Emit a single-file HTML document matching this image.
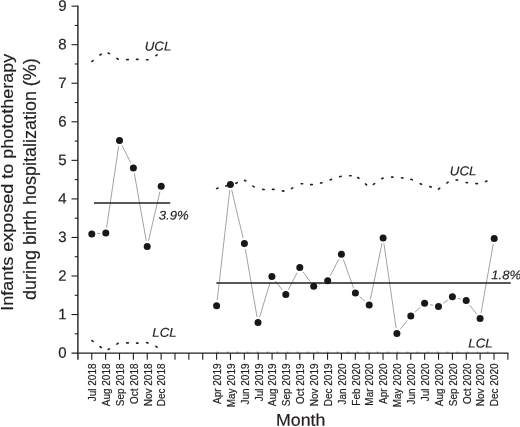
<!DOCTYPE html><html><head><meta charset="utf-8"><title>Phototherapy control chart</title>
<style>html,body{margin:0;padding:0;background:#fff}svg{display:block;font-family:"Liberation Sans",Arial,sans-serif}</style></head><body>
<svg width="520" height="427" viewBox="0 0 520 427">
<rect width="520" height="427" fill="#fff"/>
<g stroke="#8a8a8a" stroke-width="0.8" fill="none">
<line x1="97.38" y1="233.66" x2="100.22" y2="233.44"/>
<line x1="106.62" y1="227.46" x2="118.68" y2="146.04"/>
<line x1="122.03" y1="145.49" x2="130.87" y2="162.91"/>
<line x1="134.37" y1="173.42" x2="146.23" y2="240.88"/>
<line x1="148.47" y1="240.95" x2="159.93" y2="191.65"/>
<line x1="217.23" y1="300.14" x2="229.77" y2="190.16"/>
<line x1="231.69" y1="190.05" x2="243.11" y2="238.05"/>
<line x1="245.35" y1="249.02" x2="257.05" y2="316.98"/>
<line x1="259.62" y1="317.14" x2="270.28" y2="281.86"/>
<line x1="275.31" y1="280.94" x2="282.39" y2="290.16"/>
<line x1="288.38" y1="289.63" x2="297.22" y2="272.57"/>
<line x1="303.15" y1="272.09" x2="310.35" y2="281.71"/>
<line x1="318.92" y1="284.18" x2="322.48" y2="282.82"/>
<line x1="330.26" y1="275.82" x2="338.84" y2="259.18"/>
<line x1="343.30" y1="259.47" x2="353.50" y2="287.83"/>
<line x1="359.64" y1="296.76" x2="364.96" y2="301.34"/>
<line x1="370.34" y1="299.52" x2="381.96" y2="243.38"/>
<line x1="383.90" y1="243.44" x2="396.10" y2="327.86"/>
<line x1="400.40" y1="329.02" x2="407.30" y2="320.38"/>
<line x1="414.92" y1="312.21" x2="420.48" y2="307.09"/>
<line x1="430.05" y1="304.59" x2="433.05" y2="305.31"/>
<line x1="443.08" y1="303.37" x2="447.82" y2="300.03"/>
<line x1="457.80" y1="298.29" x2="460.80" y2="299.11"/>
<line x1="469.65" y1="305.01" x2="476.65" y2="313.99"/>
<line x1="481.07" y1="312.89" x2="493.23" y2="244.01"/>
</g>
<g stroke="#231f20" stroke-width="1.5">
<line x1="94" y1="203.1" x2="170.2" y2="203.1"/>
<line x1="216.4" y1="282.95" x2="510.7" y2="282.95"/>
</g>
<g stroke="#231f20" stroke-width="1.6" stroke-linecap="round">
<line x1="91.89" y1="61.43" x2="93.11" y2="60.57"/>
<line x1="99.95" y1="54.98" x2="101.25" y2="54.23"/>
<line x1="108.12" y1="52.98" x2="109.48" y2="53.62"/>
<line x1="116.89" y1="58.37" x2="118.11" y2="59.23"/>
<line x1="126.75" y1="59.60" x2="128.25" y2="59.60"/>
<line x1="136.55" y1="59.40" x2="138.05" y2="59.40"/>
<line x1="146.55" y1="59.80" x2="148.05" y2="59.80"/>
<line x1="155.85" y1="55.58" x2="157.15" y2="54.83"/>
<line x1="91.89" y1="340.57" x2="93.11" y2="341.43"/>
<line x1="99.95" y1="346.73" x2="101.25" y2="347.48"/>
<line x1="108.12" y1="349.52" x2="109.48" y2="348.88"/>
<line x1="116.89" y1="344.13" x2="118.11" y2="343.27"/>
<line x1="126.75" y1="342.90" x2="128.25" y2="342.90"/>
<line x1="136.55" y1="343.10" x2="138.05" y2="343.10"/>
<line x1="146.60" y1="342.54" x2="148.00" y2="343.06"/>
<line x1="155.86" y1="346.40" x2="157.14" y2="347.20"/>
<line x1="216.62" y1="188.62" x2="217.98" y2="187.98"/>
<line x1="225.78" y1="185.99" x2="227.22" y2="185.61"/>
<line x1="235.80" y1="183.16" x2="237.20" y2="182.64"/>
<line x1="244.55" y1="180.22" x2="245.85" y2="180.97"/>
<line x1="252.85" y1="186.12" x2="254.15" y2="186.88"/>
<line x1="262.75" y1="189.33" x2="264.25" y2="189.47"/>
<line x1="272.55" y1="189.40" x2="274.05" y2="189.40"/>
<line x1="282.36" y1="190.87" x2="283.84" y2="191.13"/>
<line x1="291.45" y1="188.57" x2="292.75" y2="187.82"/>
<line x1="301.15" y1="183.80" x2="302.65" y2="183.80"/>
<line x1="310.75" y1="184.60" x2="312.25" y2="184.60"/>
<line x1="320.58" y1="183.09" x2="322.02" y2="182.71"/>
<line x1="330.12" y1="179.92" x2="331.48" y2="179.28"/>
<line x1="339.68" y1="176.69" x2="341.12" y2="176.31"/>
<line x1="349.65" y1="175.80" x2="351.15" y2="175.80"/>
<line x1="357.65" y1="177.53" x2="358.95" y2="178.28"/>
<line x1="365.43" y1="183.92" x2="366.57" y2="184.88"/>
<line x1="373.39" y1="184.43" x2="374.61" y2="183.57"/>
<line x1="381.85" y1="178.78" x2="383.15" y2="178.03"/>
<line x1="391.55" y1="177.10" x2="393.05" y2="177.10"/>
<line x1="401.55" y1="177.83" x2="403.05" y2="177.97"/>
<line x1="410.80" y1="179.34" x2="412.20" y2="179.86"/>
<line x1="420.22" y1="183.68" x2="421.58" y2="184.32"/>
<line x1="429.78" y1="186.61" x2="431.22" y2="186.99"/>
<line x1="438.49" y1="189.13" x2="439.71" y2="188.27"/>
<line x1="446.89" y1="183.03" x2="448.11" y2="182.17"/>
<line x1="456.17" y1="179.84" x2="457.63" y2="180.16"/>
<line x1="466.06" y1="182.47" x2="467.54" y2="182.73"/>
<line x1="475.95" y1="183.60" x2="477.45" y2="183.60"/>
<line x1="485.50" y1="181.56" x2="486.90" y2="181.04"/>
</g>
<line x1="216.6" y1="352.2" x2="494" y2="352.2" stroke="#231f20" stroke-width="0.5" stroke-dasharray="2 8"/>
<g fill="#1a1718">
<circle cx="91.80" cy="234.10" r="3.5"/>
<circle cx="105.80" cy="233.00" r="3.5"/>
<circle cx="119.50" cy="140.50" r="3.5"/>
<circle cx="133.40" cy="167.90" r="3.5"/>
<circle cx="147.20" cy="246.40" r="3.5"/>
<circle cx="161.20" cy="186.20" r="3.5"/>
<circle cx="216.60" cy="305.70" r="3.5"/>
<circle cx="230.40" cy="184.60" r="3.5"/>
<circle cx="244.40" cy="243.50" r="3.5"/>
<circle cx="258.00" cy="322.50" r="3.5"/>
<circle cx="271.90" cy="276.50" r="3.5"/>
<circle cx="285.80" cy="294.60" r="3.5"/>
<circle cx="299.80" cy="267.60" r="3.5"/>
<circle cx="313.70" cy="286.20" r="3.5"/>
<circle cx="327.70" cy="280.80" r="3.5"/>
<circle cx="341.40" cy="254.20" r="3.5"/>
<circle cx="355.40" cy="293.10" r="3.5"/>
<circle cx="369.20" cy="305.00" r="3.5"/>
<circle cx="383.10" cy="237.90" r="3.5"/>
<circle cx="396.90" cy="333.40" r="3.5"/>
<circle cx="410.80" cy="316.00" r="3.5"/>
<circle cx="424.60" cy="303.30" r="3.5"/>
<circle cx="438.50" cy="306.60" r="3.5"/>
<circle cx="452.40" cy="296.80" r="3.5"/>
<circle cx="466.20" cy="300.60" r="3.5"/>
<circle cx="480.10" cy="318.40" r="3.5"/>
<circle cx="494.20" cy="238.50" r="3.5"/>
</g>
<g stroke="#231f20" fill="none">
<line stroke-width="1.4" x1="77.90" y1="5.45" x2="77.90" y2="359.80"/>
<line stroke-width="1.2" x1="71.50" y1="353.05" x2="508.42" y2="353.05"/>
<g stroke-width="1.1">
<line x1="71.50" y1="314.55" x2="77.90" y2="314.55"/>
<line x1="71.50" y1="276.00" x2="77.90" y2="276.00"/>
<line x1="71.50" y1="237.45" x2="77.90" y2="237.45"/>
<line x1="71.50" y1="198.90" x2="77.90" y2="198.90"/>
<line x1="71.50" y1="160.35" x2="77.90" y2="160.35"/>
<line x1="71.50" y1="121.80" x2="77.90" y2="121.80"/>
<line x1="71.50" y1="83.25" x2="77.90" y2="83.25"/>
<line x1="71.50" y1="44.70" x2="77.90" y2="44.70"/>
<line x1="71.50" y1="6.15" x2="77.90" y2="6.15"/>
<line x1="74.70" y1="333.83" x2="77.90" y2="333.83"/>
<line x1="74.70" y1="295.28" x2="77.90" y2="295.28"/>
<line x1="74.70" y1="256.73" x2="77.90" y2="256.73"/>
<line x1="74.70" y1="218.18" x2="77.90" y2="218.18"/>
<line x1="74.70" y1="179.62" x2="77.90" y2="179.62"/>
<line x1="74.70" y1="141.08" x2="77.90" y2="141.08"/>
<line x1="74.70" y1="102.53" x2="77.90" y2="102.53"/>
<line x1="74.70" y1="63.98" x2="77.90" y2="63.98"/>
<line x1="74.70" y1="25.43" x2="77.90" y2="25.43"/>
<line x1="91.77" y1="353.00" x2="91.77" y2="359.80"/>
<line x1="105.64" y1="353.00" x2="105.64" y2="359.80"/>
<line x1="119.51" y1="353.00" x2="119.51" y2="359.80"/>
<line x1="133.38" y1="353.00" x2="133.38" y2="359.80"/>
<line x1="147.25" y1="353.00" x2="147.25" y2="359.80"/>
<line x1="161.12" y1="353.00" x2="161.12" y2="359.80"/>
<line x1="174.99" y1="353.00" x2="174.99" y2="359.80"/>
<line x1="188.86" y1="353.00" x2="188.86" y2="359.80"/>
<line x1="202.73" y1="353.00" x2="202.73" y2="359.80"/>
<line x1="216.60" y1="353.00" x2="216.60" y2="359.80"/>
<line x1="230.47" y1="353.00" x2="230.47" y2="359.80"/>
<line x1="244.34" y1="353.00" x2="244.34" y2="359.80"/>
<line x1="258.21" y1="353.00" x2="258.21" y2="359.80"/>
<line x1="272.08" y1="353.00" x2="272.08" y2="359.80"/>
<line x1="285.95" y1="353.00" x2="285.95" y2="359.80"/>
<line x1="299.82" y1="353.00" x2="299.82" y2="359.80"/>
<line x1="313.69" y1="353.00" x2="313.69" y2="359.80"/>
<line x1="327.56" y1="353.00" x2="327.56" y2="359.80"/>
<line x1="341.43" y1="353.00" x2="341.43" y2="359.80"/>
<line x1="355.30" y1="353.00" x2="355.30" y2="359.80"/>
<line x1="369.17" y1="353.00" x2="369.17" y2="359.80"/>
<line x1="383.04" y1="353.00" x2="383.04" y2="359.80"/>
<line x1="396.91" y1="353.00" x2="396.91" y2="359.80"/>
<line x1="410.78" y1="353.00" x2="410.78" y2="359.80"/>
<line x1="424.65" y1="353.00" x2="424.65" y2="359.80"/>
<line x1="438.52" y1="353.00" x2="438.52" y2="359.80"/>
<line x1="452.39" y1="353.00" x2="452.39" y2="359.80"/>
<line x1="466.26" y1="353.00" x2="466.26" y2="359.80"/>
<line x1="480.13" y1="353.00" x2="480.13" y2="359.80"/>
<line x1="494.00" y1="353.00" x2="494.00" y2="359.80"/>
<line x1="507.87" y1="353.00" x2="507.87" y2="359.80"/>
</g></g>
<g fill="#231f20">
<text transform="translate(66.50,357.75) rotate(0.03)" font-size="15.0" text-anchor="end" stroke="#231f20" stroke-width="0.2" stroke-linejoin="round">0</text>
<text transform="translate(66.50,319.20) rotate(0.03)" font-size="15.0" text-anchor="end" stroke="#231f20" stroke-width="0.2" stroke-linejoin="round">1</text>
<text transform="translate(66.50,280.65) rotate(0.03)" font-size="15.0" text-anchor="end" stroke="#231f20" stroke-width="0.2" stroke-linejoin="round">2</text>
<text transform="translate(66.50,242.10) rotate(0.03)" font-size="15.0" text-anchor="end" stroke="#231f20" stroke-width="0.2" stroke-linejoin="round">3</text>
<text transform="translate(66.50,203.55) rotate(0.03)" font-size="15.0" text-anchor="end" stroke="#231f20" stroke-width="0.2" stroke-linejoin="round">4</text>
<text transform="translate(66.50,165.00) rotate(0.03)" font-size="15.0" text-anchor="end" stroke="#231f20" stroke-width="0.2" stroke-linejoin="round">5</text>
<text transform="translate(66.50,126.45) rotate(0.03)" font-size="15.0" text-anchor="end" stroke="#231f20" stroke-width="0.2" stroke-linejoin="round">6</text>
<text transform="translate(66.50,87.90) rotate(0.03)" font-size="15.0" text-anchor="end" stroke="#231f20" stroke-width="0.2" stroke-linejoin="round">7</text>
<text transform="translate(66.50,49.35) rotate(0.03)" font-size="15.0" text-anchor="end" stroke="#231f20" stroke-width="0.2" stroke-linejoin="round">8</text>
<text transform="translate(66.50,10.80) rotate(0.03)" font-size="15.0" text-anchor="end" stroke="#231f20" stroke-width="0.2" stroke-linejoin="round">9</text>
<text transform="translate(96.07,363.50) rotate(-90) scale(0.8540,1)" font-size="11.7" text-anchor="end" stroke="#231f20" stroke-width="0.22" stroke-linejoin="round">Jul 2018</text>
<text transform="translate(109.94,363.50) rotate(-90) scale(0.8540,1)" font-size="11.7" text-anchor="end" stroke="#231f20" stroke-width="0.22" stroke-linejoin="round">Aug 2018</text>
<text transform="translate(123.81,363.50) rotate(-90) scale(0.8540,1)" font-size="11.7" text-anchor="end" stroke="#231f20" stroke-width="0.22" stroke-linejoin="round">Sep 2018</text>
<text transform="translate(137.68,363.50) rotate(-90) scale(0.8540,1)" font-size="11.7" text-anchor="end" stroke="#231f20" stroke-width="0.22" stroke-linejoin="round">Oct 2018</text>
<text transform="translate(151.55,363.50) rotate(-90) scale(0.8540,1)" font-size="11.7" text-anchor="end" stroke="#231f20" stroke-width="0.22" stroke-linejoin="round">Nov 2018</text>
<text transform="translate(165.42,363.50) rotate(-90) scale(0.8540,1)" font-size="11.7" text-anchor="end" stroke="#231f20" stroke-width="0.22" stroke-linejoin="round">Dec 2018</text>
<text transform="translate(220.90,363.50) rotate(-90) scale(0.8540,1)" font-size="11.7" text-anchor="end" stroke="#231f20" stroke-width="0.22" stroke-linejoin="round">Apr 2019</text>
<text transform="translate(234.77,363.50) rotate(-90) scale(0.8540,1)" font-size="11.7" text-anchor="end" stroke="#231f20" stroke-width="0.22" stroke-linejoin="round">May 2019</text>
<text transform="translate(248.64,363.50) rotate(-90) scale(0.8540,1)" font-size="11.7" text-anchor="end" stroke="#231f20" stroke-width="0.22" stroke-linejoin="round">Jun 2019</text>
<text transform="translate(262.51,363.50) rotate(-90) scale(0.8540,1)" font-size="11.7" text-anchor="end" stroke="#231f20" stroke-width="0.22" stroke-linejoin="round">Jul 2019</text>
<text transform="translate(276.38,363.50) rotate(-90) scale(0.8540,1)" font-size="11.7" text-anchor="end" stroke="#231f20" stroke-width="0.22" stroke-linejoin="round">Aug 2019</text>
<text transform="translate(290.25,363.50) rotate(-90) scale(0.8540,1)" font-size="11.7" text-anchor="end" stroke="#231f20" stroke-width="0.22" stroke-linejoin="round">Sep 2019</text>
<text transform="translate(304.12,363.50) rotate(-90) scale(0.8540,1)" font-size="11.7" text-anchor="end" stroke="#231f20" stroke-width="0.22" stroke-linejoin="round">Oct 2019</text>
<text transform="translate(317.99,363.50) rotate(-90) scale(0.8540,1)" font-size="11.7" text-anchor="end" stroke="#231f20" stroke-width="0.22" stroke-linejoin="round">Nov 2019</text>
<text transform="translate(331.86,363.50) rotate(-90) scale(0.8540,1)" font-size="11.7" text-anchor="end" stroke="#231f20" stroke-width="0.22" stroke-linejoin="round">Dec 2019</text>
<text transform="translate(345.73,363.50) rotate(-90) scale(0.8540,1)" font-size="11.7" text-anchor="end" stroke="#231f20" stroke-width="0.22" stroke-linejoin="round">Jan 2020</text>
<text transform="translate(359.60,363.50) rotate(-90) scale(0.8540,1)" font-size="11.7" text-anchor="end" stroke="#231f20" stroke-width="0.22" stroke-linejoin="round">Feb 2020</text>
<text transform="translate(373.47,363.50) rotate(-90) scale(0.8540,1)" font-size="11.7" text-anchor="end" stroke="#231f20" stroke-width="0.22" stroke-linejoin="round">Mar 2020</text>
<text transform="translate(387.34,363.50) rotate(-90) scale(0.8540,1)" font-size="11.7" text-anchor="end" stroke="#231f20" stroke-width="0.22" stroke-linejoin="round">Apr 2020</text>
<text transform="translate(401.21,363.50) rotate(-90) scale(0.8540,1)" font-size="11.7" text-anchor="end" stroke="#231f20" stroke-width="0.22" stroke-linejoin="round">May 2020</text>
<text transform="translate(415.08,363.50) rotate(-90) scale(0.8540,1)" font-size="11.7" text-anchor="end" stroke="#231f20" stroke-width="0.22" stroke-linejoin="round">Jun 2020</text>
<text transform="translate(428.95,363.50) rotate(-90) scale(0.8540,1)" font-size="11.7" text-anchor="end" stroke="#231f20" stroke-width="0.22" stroke-linejoin="round">Jul 2020</text>
<text transform="translate(442.82,363.50) rotate(-90) scale(0.8540,1)" font-size="11.7" text-anchor="end" stroke="#231f20" stroke-width="0.22" stroke-linejoin="round">Aug 2020</text>
<text transform="translate(456.69,363.50) rotate(-90) scale(0.8540,1)" font-size="11.7" text-anchor="end" stroke="#231f20" stroke-width="0.22" stroke-linejoin="round">Sep 2020</text>
<text transform="translate(470.56,363.50) rotate(-90) scale(0.8540,1)" font-size="11.7" text-anchor="end" stroke="#231f20" stroke-width="0.22" stroke-linejoin="round">Oct 2020</text>
<text transform="translate(484.43,363.50) rotate(-90) scale(0.8540,1)" font-size="11.7" text-anchor="end" stroke="#231f20" stroke-width="0.22" stroke-linejoin="round">Nov 2020</text>
<text transform="translate(498.30,363.50) rotate(-90) scale(0.8540,1)" font-size="11.7" text-anchor="end" stroke="#231f20" stroke-width="0.22" stroke-linejoin="round">Dec 2020</text>
<text transform="translate(276.00,425.80) rotate(0.03) scale(1.0450,1)" font-size="17" stroke="#231f20" stroke-width="0.2" stroke-linejoin="round">Month</text>
<text transform="translate(13.30,182.20) rotate(-90) scale(1.0460,1)" font-size="17.2" text-anchor="middle" stroke="#231f20" stroke-width="0.2" stroke-linejoin="round">Infants exposed to phototherapy</text>
<text transform="translate(36.30,179.05) rotate(-90) scale(0.9670,1)" font-size="18.6" text-anchor="middle" stroke="#231f20" stroke-width="0.2" stroke-linejoin="round">during birth hospitalization (%)</text>
<text transform="translate(144.70,50.50) rotate(0.03) scale(1.0400,1)" font-size="12.8" font-style="italic" stroke="#231f20" stroke-width="0.15" stroke-linejoin="round">UCL</text>
<text transform="translate(152.30,336.70) rotate(0.03) scale(1.0400,1)" font-size="12.8" font-style="italic" stroke="#231f20" stroke-width="0.15" stroke-linejoin="round">LCL</text>
<text transform="translate(449.80,175.30) rotate(0.03) scale(1.0400,1)" font-size="12.8" font-style="italic" stroke="#231f20" stroke-width="0.15" stroke-linejoin="round">UCL</text>
<text transform="translate(468.30,347.50) rotate(0.03) scale(1.0400,1)" font-size="12.8" font-style="italic" stroke="#231f20" stroke-width="0.15" stroke-linejoin="round">LCL</text>
<text transform="translate(158.70,219.40) rotate(0.03) scale(1.0500,1)" font-size="12.5" font-style="italic" stroke="#231f20" stroke-width="0.15" stroke-linejoin="round">3.9%</text>
<text transform="translate(491.20,279.20) rotate(0.03) scale(1.0500,1)" font-size="12.5" font-style="italic" stroke="#231f20" stroke-width="0.15" stroke-linejoin="round">1.8%</text>
</g>
</svg></body></html>
